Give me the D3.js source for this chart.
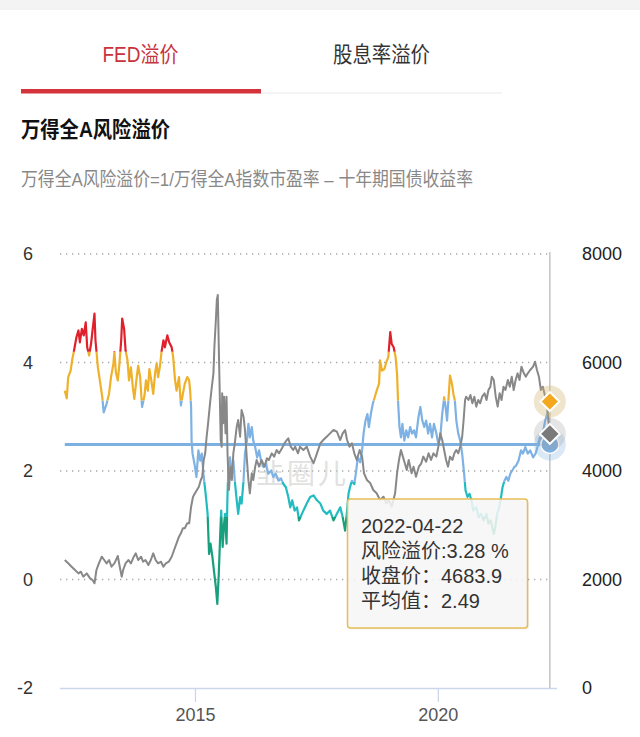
<!DOCTYPE html>
<html><head><meta charset="utf-8">
<script src="https://cdn.jsdelivr.net/npm/d3@7"></script>
<style>
body{margin:0;background:#fff;}
svg{display:block;font-family:"Liberation Sans","Noto Sans CJK SC",sans-serif;}
</style>
</head><body>
<svg id="chart" width="640" height="737"></svg>
<script>
// ---------------- data (dates as decimal years) ----------------
const riskPremium = [
[2012.32,3.48],[2012.36,3.34],[2012.39,3.73],[2012.44,3.85],[2012.47,4.04],[2012.51,4.22],[2012.56,4.47],[2012.60,4.59],[2012.63,4.37],[2012.67,4.62],
[2012.71,4.50],[2012.75,4.74],[2012.78,4.28],[2012.82,4.13],[2012.86,4.35],[2012.89,4.59],[2012.93,4.90],[2012.95,4.41],[2013.00,3.91],[2013.04,3.67],
[2013.09,3.36],[2013.12,3.08],[2013.18,3.24],[2013.23,3.43],[2013.27,3.73],[2013.32,3.98],[2013.34,4.19],[2013.37,3.82],[2013.41,3.67],[2013.44,3.94],
[2013.48,4.41],[2013.50,4.81],[2013.54,4.62],[2013.57,4.22],[2013.61,4.04],[2013.64,3.67],[2013.68,3.91],[2013.72,3.54],[2013.75,3.33],[2013.80,3.73],
[2013.83,3.94],[2013.87,3.73],[2013.91,3.18],[2013.96,3.39],[2013.99,3.67],[2014.03,3.48],[2014.06,3.88],[2014.10,3.67],[2014.14,3.42],[2014.18,3.82],
[2014.21,3.98],[2014.24,3.73],[2014.28,3.94],[2014.31,4.19],[2014.35,4.41],[2014.38,4.28],[2014.43,4.50],[2014.47,4.37],[2014.52,4.28],[2014.55,4.10],
[2014.59,3.67],[2014.62,3.48],[2014.67,3.73],[2014.71,3.21],[2014.75,3.42],[2014.79,3.61],[2014.84,3.73],[2014.88,3.67],[2014.90,3.48],[2014.92,3.18],
[2014.93,2.56],[2014.95,2.32],[2014.99,2.13],[2015.03,1.89],[2015.07,2.38],[2015.11,2.19],[2015.14,2.32],[2015.18,1.89],[2015.22,1.58],[2015.26,1.21],
[2015.29,0.47],[2015.32,0.66],[2015.36,0.41],[2015.39,0.17],[2015.43,-0.14],[2015.46,-0.45],[2015.49,0.10],[2015.52,0.84],[2015.54,1.27],[2015.57,0.60],
[2015.60,1.03],[2015.62,1.21],[2015.65,0.66],[2015.67,1.58],[2015.69,2.07],[2015.72,2.25],[2015.76,1.95],[2015.79,2.19],[2015.82,1.82],[2015.86,1.46],
[2015.89,1.21],[2015.93,1.52],[2015.96,1.40],[2016.00,1.82],[2016.03,2.32],[2016.07,2.56],[2016.10,2.87],[2016.13,2.62],[2016.17,2.81],[2016.20,2.56],
[2016.24,2.44],[2016.28,2.25],[2016.32,2.38],[2016.36,2.19],[2016.41,2.07],[2016.46,2.13],[2016.51,1.95],[2016.57,2.01],[2016.61,1.89],[2016.66,1.95],
[2016.72,1.82],[2016.77,1.86],[2016.82,1.76],[2016.87,1.70],[2016.92,1.52],[2016.96,1.33],[2017.00,1.46],[2017.05,1.27],[2017.10,1.33],[2017.14,1.09],
[2017.20,1.21],[2017.23,1.27],[2017.30,1.40],[2017.37,1.52],[2017.44,1.55],[2017.51,1.46],[2017.58,1.40],[2017.64,1.27],[2017.71,1.21],[2017.78,1.27],
[2017.85,1.09],[2017.92,1.21],[2017.99,1.33],[2018.04,1.15],[2018.09,0.90],[2018.13,1.27],[2018.16,1.58],[2018.19,1.70],[2018.23,1.82],[2018.28,1.76],
[2018.32,2.01],[2018.35,2.25],[2018.40,2.16],[2018.44,2.38],[2018.47,2.69],[2018.51,2.93],[2018.55,3.05],[2018.58,2.81],[2018.62,3.05],[2018.66,3.24],
[2018.70,3.36],[2018.74,3.48],[2018.79,3.61],[2018.81,4.04],[2018.85,3.85],[2018.90,3.88],[2018.94,4.01],[2018.98,4.10],[2019.02,4.56],[2019.05,4.34],
[2019.09,4.28],[2019.13,4.10],[2019.16,3.79],[2019.18,3.30],[2019.21,2.81],[2019.24,2.62],[2019.27,2.87],[2019.31,2.56],[2019.35,2.75],[2019.39,2.62],
[2019.43,2.81],[2019.47,2.69],[2019.51,2.75],[2019.55,2.62],[2019.60,2.99],[2019.64,3.18],[2019.68,2.93],[2019.72,2.81],[2019.76,2.93],[2019.80,2.69],
[2019.84,2.87],[2019.88,2.62],[2019.92,2.87],[2019.97,2.69],[2020.01,2.50],[2020.05,2.62],[2020.09,3.05],[2020.13,3.36],[2020.16,3.18],[2020.19,2.93],
[2020.23,3.48],[2020.25,3.76],[2020.29,3.61],[2020.32,3.42],[2020.35,3.30],[2020.38,2.93],[2020.42,2.69],[2020.46,2.56],[2020.50,2.32],[2020.54,1.95],
[2020.57,1.64],[2020.61,1.52],[2020.65,1.58],[2020.69,1.46],[2020.73,1.27],[2020.79,1.33],[2020.84,1.15],[2020.89,1.21],[2020.94,1.09],[2021.00,1.21],
[2021.04,1.03],[2021.09,1.09],[2021.15,0.84],[2021.18,0.96],[2021.22,1.21],[2021.26,1.33],[2021.30,1.52],[2021.33,1.70],[2021.37,1.82],[2021.41,1.89],
[2021.45,1.82],[2021.49,1.95],[2021.53,2.01],[2021.57,2.07],[2021.61,2.10],[2021.66,2.19],[2021.71,2.38],[2021.75,2.32],[2021.80,2.44],[2021.85,2.32],
[2021.90,2.38],[2021.96,2.25],[2022.01,2.32],[2022.05,2.44],[2022.10,2.62],[2022.12,2.50],[2022.16,2.69],[2022.21,2.93],[2022.25,3.05],[2022.28,3.18],
[2022.305,3.28]
];
const closePrice = [
[2012.32,2359],[2012.39,2298],[2012.46,2236],[2012.53,2175],[2012.60,2113],[2012.65,2144],[2012.70,2052],[2012.77,2113],[2012.84,2021],[2012.89,1991],
[2012.93,1930],[2012.97,2175],[2013.02,2298],[2013.08,2420],[2013.13,2359],[2013.18,2298],[2013.23,2359],[2013.28,2236],[2013.34,2298],[2013.41,2433],
[2013.45,2236],[2013.49,2052],[2013.52,2175],[2013.57,2298],[2013.63,2359],[2013.68,2298],[2013.74,2420],[2013.78,2482],[2013.83,2359],[2013.89,2420],
[2013.93,2328],[2013.98,2359],[2014.04,2267],[2014.09,2359],[2014.14,2482],[2014.19,2359],[2014.24,2298],[2014.30,2328],[2014.35,2236],[2014.40,2298],
[2014.46,2328],[2014.52,2420],[2014.57,2544],[2014.62,2667],[2014.67,2789],[2014.71,2851],[2014.75,2944],[2014.79,2944],[2014.84,3036],[2014.88,3036],
[2014.92,3342],[2014.96,3526],[2015.00,3589],[2015.04,3650],[2015.08,3710],[2015.12,3834],[2015.15,3895],[2015.18,4203],[2015.21,4326],[2015.24,4632],
[2015.27,4879],[2015.31,5248],[2015.34,5493],[2015.38,5800],[2015.40,6291],[2015.43,6783],[2015.45,7152],[2015.47,7244],[2015.49,6291],[2015.51,5432],
[2015.53,4571],[2015.55,4448],[2015.56,5432],[2015.58,4879],[2015.60,5370],[2015.63,4694],[2015.65,5370],[2015.67,4326],[2015.70,3650],[2015.73,4080],
[2015.76,3834],[2015.79,4326],[2015.82,4510],[2015.86,4817],[2015.89,4940],[2015.93,4632],[2015.96,5124],[2016.00,5001],[2016.03,4756],[2016.07,4203],
[2016.10,3834],[2016.13,3589],[2016.17,3957],[2016.20,3834],[2016.24,4080],[2016.27,4203],[2016.32,4080],[2016.37,4203],[2016.43,4080],[2016.48,4234],
[2016.52,4203],[2016.58,4326],[2016.63,4265],[2016.68,4387],[2016.73,4326],[2016.79,4418],[2016.84,4510],[2016.89,4571],[2016.92,4602],[2016.97,4448],
[2017.02,4387],[2017.06,4448],[2017.12,4326],[2017.16,4448],[2017.23,4387],[2017.30,4448],[2017.37,4265],[2017.44,4142],[2017.51,4326],[2017.58,4510],
[2017.64,4571],[2017.71,4632],[2017.78,4694],[2017.85,4756],[2017.92,4725],[2017.99,4571],[2018.04,4694],[2018.09,4756],[2018.13,4571],[2018.18,4448],
[2018.23,4510],[2018.28,4326],[2018.33,4203],[2018.39,4387],[2018.44,4265],[2018.48,3957],[2018.54,3834],[2018.61,3773],[2018.67,3650],[2018.74,3589],
[2018.81,3465],[2018.88,3526],[2018.94,3404],[2018.99,3465],[2019.05,3342],[2019.12,3589],[2019.16,3957],[2019.20,4203],[2019.24,4387],[2019.28,4265],
[2019.32,4142],[2019.36,4019],[2019.40,4203],[2019.46,3957],[2019.50,4080],[2019.55,3895],[2019.61,4080],[2019.66,4142],[2019.70,4265],[2019.76,4172],
[2019.81,4326],[2019.86,4203],[2019.91,4326],[2019.97,4265],[2020.01,4448],[2020.05,4694],[2020.09,4571],[2020.13,4387],[2020.17,4203],[2020.21,4080],
[2020.25,4265],[2020.30,4203],[2020.34,4326],[2020.38,4387],[2020.42,4326],[2020.46,4448],[2020.50,4632],[2020.53,4940],[2020.56,5309],[2020.58,5370],
[2020.63,5309],[2020.67,5401],[2020.71,5248],[2020.75,5370],[2020.79,5186],[2020.83,5309],[2020.87,5248],[2020.91,5370],[2020.96,5432],[2021.00,5309],
[2021.04,5493],[2021.08,5554],[2021.11,5738],[2021.15,5677],[2021.19,5370],[2021.23,5186],[2021.27,5432],[2021.31,5309],[2021.35,5554],[2021.39,5493],
[2021.44,5677],[2021.48,5554],[2021.52,5738],[2021.56,5493],[2021.60,5677],[2021.64,5800],[2021.68,5677],[2021.72,5923],[2021.77,5800],[2021.81,5738],
[2021.85,5800],[2021.90,5862],[2021.96,5923],[2022.00,6015],[2022.04,5862],[2022.08,5738],[2022.12,5493],[2022.16,5554],[2022.21,5370],[2022.25,5186],
[2022.28,4879],[2022.305,4683.9]
];
const meanValue = 2.49;
const leftTicks = [-2, 0, 2, 4, 6];
const rightTicks = [0, 2000, 4000, 6000, 8000];
const xTickYears = [2015, 2020];
const zoneBreaks = [1.15, 1.8, 3.3, 4.2];
const zoneColors = ["#18a07e", "#22bcc0", "#7eb2e4", "#efb02a", "#e0212c"];
const tabLabels = ["FED溢价", "股息率溢价"];
const titleText = "万得全A风险溢价";
const subtitleText = "万得全A风险溢价=1/万得全A指数市盈率 – 十年期国债收益率";
const tooltipLines = ["2022-04-22", "风险溢价:3.28 %", "收盘价：4683.9", "平均值：2.49"];

// ---------------- helpers ----------------
function toDate(t) {
  const y = Math.floor(t);
  const a = Date.UTC(y, 0, 1), b = Date.UTC(y + 1, 0, 1);
  return new Date(a + (t - y) * (b - a));
}
const svg = d3.select("#chart");
const defs = svg.append("defs");

// header
svg.append("rect").attr("x", 0).attr("y", 0).attr("width", 640).attr("height", 10).attr("fill", "#f3f3f3");
svg.append("text").attr("x", 102.5).attr("y", 62).attr("font-size", 22).attr("fill", "#c8323c")
  .attr("textLength", 76).attr("lengthAdjust", "spacingAndGlyphs").text(tabLabels[0]);
svg.append("text").attr("x", 333).attr("y", 62).attr("font-size", 22).attr("fill", "#333")
  .attr("textLength", 97).attr("lengthAdjust", "spacingAndGlyphs").text(tabLabels[1]);
svg.append("line").attr("x1", 261).attr("x2", 502).attr("y1", 93).attr("y2", 93).attr("stroke", "#e9e9e9").attr("stroke-width", 1);
svg.append("rect").attr("x", 21).attr("y", 89).attr("width", 240).attr("height", 4.5).attr("fill", "#d5333c");
svg.append("text").attr("x", 21).attr("y", 137).attr("font-size", 21.5).attr("font-weight", "bold").attr("fill", "#111")
  .attr("textLength", 149).attr("lengthAdjust", "spacingAndGlyphs").text(titleText);
svg.append("text").attr("x", 21).attr("y", 185.5).attr("font-size", 19).attr("fill", "#888")
  .attr("textLength", 452).attr("lengthAdjust", "spacingAndGlyphs").text(subtitleText);

// scales
const x = d3.scaleUtc().domain([new Date(Date.UTC(2012, 2, 22)), new Date(Date.UTC(2022, 4, 1))]).range([60, 551]);
const yL = d3.scaleLinear().domain([-2, 6]).range([688, 254]);
const yR = d3.scaleLinear().domain([0, 8000]).range([688, 254]);

// grid
svg.append("g").selectAll("line").data(leftTicks.filter(d => d > -2)).join("line")
  .attr("x1", 60).attr("x2", 551).attr("y1", d => yL(d)).attr("y2", d => yL(d))
  .attr("stroke", "#a8a8a8").attr("stroke-width", 1.3).attr("stroke-dasharray", "1.3,4.7");

// watermark
svg.append("text").attr("x", 256).attr("y", 484).attr("font-size", 28).attr("fill", "#c9c9c9")
  .attr("opacity", 0.55).attr("letter-spacing", 3).text("韭圈儿");

// axes
const fontFam = '"Liberation Sans","Noto Sans CJK SC",sans-serif';
const gL = svg.append("g").attr("transform", "translate(33,0)")
  .call(d3.axisLeft(yL).tickValues(leftTicks).tickSize(0).tickPadding(0).tickFormat(d => String(d)));
gL.select(".domain").remove();
gL.selectAll("text").attr("font-size", 18).attr("font-family", fontFam).attr("fill", "#333");

const gR = svg.append("g").attr("transform", "translate(582,0)")
  .call(d3.axisRight(yR).tickValues(rightTicks).tickSize(0).tickPadding(0).tickFormat(d => String(d)));
gR.select(".domain").remove();
gR.selectAll("text").attr("font-size", 18).attr("font-family", fontFam).attr("fill", "#222");

const gB = svg.append("g").attr("transform", "translate(0,688)")
  .call(d3.axisBottom(x).tickValues(xTickYears.map(yy => new Date(Date.UTC(yy, 0, 1))))
    .tickSize(14).tickPadding(6).tickFormat(d3.utcFormat("%Y")));
gB.select(".domain").remove();
gB.selectAll(".tick line").attr("stroke", "#ccd6eb").attr("stroke-width", 1.3);
gB.selectAll("text").attr("font-size", 18).attr("font-family", fontFam).attr("fill", "#555");
svg.append("line").attr("x1", 60).attr("x2", 557).attr("y1", 688.5).attr("y2", 688.5)
  .attr("stroke", "#ccd6eb").attr("stroke-width", 1.5);

// crosshair at last point
const last = riskPremium[riskPremium.length - 1];
const lastX = x(toDate(last[0]));
svg.append("line").attr("x1", lastX).attr("x2", lastX).attr("y1", 252).attr("y2", 688)
  .attr("stroke", "#c4c4c4").attr("stroke-width", 1.5);

// mean line
svg.append("line").attr("x1", x(toDate(riskPremium[0][0]))).attr("x2", lastX)
  .attr("y1", yL(meanValue)).attr("y2", yL(meanValue))
  .attr("stroke", "#7cb0e0").attr("stroke-width", 3);

// risk premium line with value zones
const rpLine = d3.line().x(d => x(toDate(d[0]))).y(d => yL(d[1]));
zoneColors.forEach((c, i) => {
  const lo = i === 0 ? -50 : zoneBreaks[i - 1];
  const hi = i === zoneBreaks.length ? 50 : zoneBreaks[i];
  defs.append("clipPath").attr("id", "zone" + i).append("rect")
    .attr("x", 0).attr("width", 640).attr("y", yL(hi)).attr("height", yL(lo) - yL(hi));
  svg.append("path").datum(riskPremium).attr("d", rpLine).attr("clip-path", `url(#zone${i})`)
    .attr("fill", "none").attr("stroke", c).attr("stroke-width", 2.2).attr("stroke-linejoin", "round");
});

// close price line
const idxLine = d3.line().x(d => x(toDate(d[0]))).y(d => yR(d[1]));
svg.append("path").datum(closePrice).attr("d", idxLine)
  .attr("fill", "none").attr("stroke", "#888").attr("stroke-width", 2).attr("stroke-linejoin", "round");

// end markers
const lastIdx = closePrice[closePrice.length - 1];
const diamond = r => `M0,${-r}L${r},0L0,${r}L${-r},0Z`;
svg.append("circle").attr("cx", lastX).attr("cy", yL(meanValue)).attr("r", 16).attr("fill", "rgba(124,176,224,0.28)");
svg.append("circle").attr("cx", lastX).attr("cy", yL(meanValue)).attr("r", 9).attr("fill", "#7cb0e0").attr("stroke", "#fff").attr("stroke-width", 1.5);
svg.append("circle").attr("cx", lastX).attr("cy", yR(lastIdx[1])).attr("r", 16).attr("fill", "rgba(150,150,150,0.25)");
svg.append("path").attr("transform", `translate(${lastX},${yR(lastIdx[1])})`).attr("d", diamond(10))
  .attr("fill", "#7a7a7a").attr("stroke", "#fff").attr("stroke-width", 2);
svg.append("circle").attr("cx", lastX).attr("cy", yL(last[1])).attr("r", 16).attr("fill", "rgba(205,180,110,0.35)");
svg.append("path").attr("transform", `translate(${lastX},${yL(last[1])})`).attr("d", diamond(9.5))
  .attr("fill", "#f4a81d").attr("stroke", "#fff").attr("stroke-width", 2);

// tooltip
const tip = svg.append("g").attr("transform", "translate(347.5,499)");
tip.append("rect").attr("x", 1.5).attr("y", 1.5).attr("width", 180).attr("height", 129).attr("rx", 3)
  .attr("fill", "rgba(0,0,0,0.06)");
tip.append("rect").attr("width", 180).attr("height", 129).attr("rx", 3)
  .attr("fill", "rgba(248,248,248,0.86)").attr("stroke", "#e7bd55").attr("stroke-width", 1.5);
tip.selectAll("text.tl").data(tooltipLines).join("text").attr("class", "tl")
  .attr("x", 13.5).attr("y", (d, i) => 34 + i * 25).attr("font-size", 20).attr("fill", "#333").text(d => d);
</script>
</body></html>
